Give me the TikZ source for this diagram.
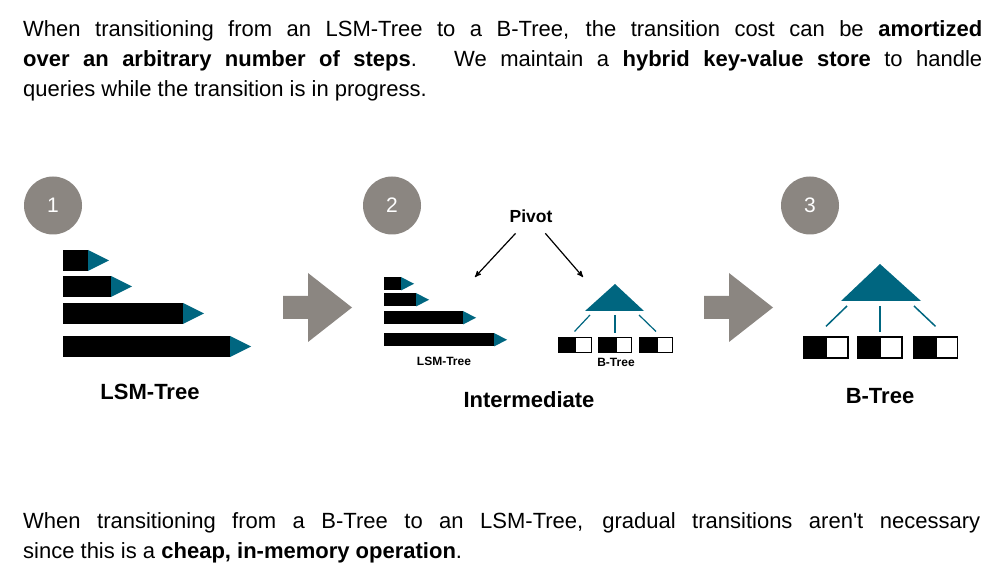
\documentclass[tikz,border=0pt]{standalone}
\usepackage{fontspec}
\setmainfont{Liberation Sans}
\usetikzlibrary{arrows,positioning}
\definecolor{stepgray}{RGB}{139,134,129}
\definecolor{treeteal}{RGB}{0,102,128}
\newcommand{\straightquote}{\XeTeXglyph\XeTeXcharglyph"27\relax}

\begin{document}
\begin{tikzpicture}[x=1pt, y=-1pt, >=stealth',
	textline/.style={anchor=base west, inner sep=0pt, font=\fontsize{22}{30}\selectfont},
	stepmark/.style={circle, fill=stepgray, text=white, minimum size=58pt, inner sep=0pt, font=\fontsize{21}{24}\selectfont},
	title/.style={anchor=base, inner sep=0pt, font=\fontsize{22}{26}\selectfont\bfseries},
	smalltitle/.style={anchor=base, inner sep=0pt, font=\fontsize{12}{14}\selectfont\bfseries},
	leafbox/.style={draw, line width=1.3pt, minimum width=44pt, minimum height=21pt, inner sep=0pt,
		path picture={\fill (path picture bounding box.north west) rectangle ([xshift=23pt]path picture bounding box.south west);}},
	smallleaf/.style={draw, line width=1pt, minimum width=33pt, minimum height=15pt, inner sep=0pt,
		path picture={\fill (path picture bounding box.north west) rectangle ([xshift=18pt]path picture bounding box.south west);}},
	branch/.style={draw=treeteal, line width=1.5pt},
	pointer/.style={->, line width=1.2pt}]
	\useasboundingbox (0,0) rectangle (994,577);

	% Text {top1, top2, top3, bot1, bot2}
	\node [textline] (top1) at (23,37) {\hbox to 959pt{When transitioning from an LSM-Tree to a B-Tree, the transition cost can be \textbf{amortized}}};
	\node [textline] (top2) at (23,67) {\hbox to 959pt{\textbf{over an arbitrary number of steps}.\hspace{7pt} We maintain a \textbf{hybrid key-value store} to handle}};
	\node [textline] (top3) at (23,97) {queries while the transition is in progress.};
	\node [textline] (bot1) at (23,528) {\hbox to 957pt{When transitioning from a B-Tree to an LSM-Tree, gradual transitions aren\straightquote t necessary}};
	\node [textline] (bot2) at (23,558) {since this is a \textbf{cheap, in-memory operation}.};

	% Steps {step1, step2, step3}
	\node [stepmark] (step1) at (53,205.5)  {1};
	\node [stepmark] (step2) at (392,205.5) {2};
	\node [stepmark] (step3) at (810,205.5) {3};

	% Gray arrows between steps
	\foreach \ax in {283,704}
		\fill [stepgray] (\ax,296) -- ++(25,0) -- ++(0,-23) -- ++(44,34.5) -- ++(-44,34.5) -- ++(0,-23) -- ++(-25,0) -- cycle;

	% LSM-Tree of step 1
	\foreach \len/\top in {88/250, 111/276, 183/303, 230/336} {
		\fill (63,\top) rectangle (\len,\top+21);
		\fill [treeteal] (\len,\top) -- (\len+21,\top+10.5) -- (\len,\top+21) -- cycle;
	}
	\node [title] (lsm) at (150,400) {LSM-Tree};

	% Intermediate of step 2
	\foreach \len/\top in {401/277, 416/293, 463/311, 494/333} {
		\fill (384,\top) rectangle (\len,\top+13.5);
		\fill [treeteal] (\len,\top) -- (\len+13,\top+6.75) -- (\len,\top+13.5) -- cycle;
	}
	\node [smalltitle] (lsmsmall) at (444,366) {LSM-Tree};

	\fill [treeteal] (585,311) -- (615,284) -- (644,311) -- cycle;
	\node [smallleaf] (s1) at (574.5,345.5) {};
	\node [smallleaf] (s2) at (615,345.5)   {};
	\node [smallleaf] (s3) at (656,345.5)   {};
	\coordinate (s1top) at (590,315);
	\coordinate (s2top) at (615,315);
	\coordinate (s3top) at (639,315);
	\draw [branch, line width=1.2pt] (s1top) -- ([yshift=6pt]s1.north);
	\draw [branch, line width=1.2pt] (s2top) -- ([yshift=4pt]s2.north);
	\draw [branch, line width=1.2pt] (s3top) -- ([yshift=6pt]s3.north);
	\node [smalltitle] (btreesmall) at (616,367) {B-Tree};

	\node [title, font=\fontsize{17.5}{20}\selectfont\bfseries, inner sep=10pt] (pivot) at (531,223) {Pivot};
	\coordinate (lsmtop)   at (475,277);
	\coordinate (btreetop) at (583,277);
	\path [pointer] (pivot) edge (lsmtop);
	\path [pointer] (pivot) edge (btreetop);
	\node [title] (inter) at (529,407) {Intermediate};

	% B-Tree of step 3
	\fill [treeteal] (841,301) -- (880,264) -- (921,301) -- cycle;
	\node [leafbox] (l1) at (826,347.5)   {};
	\node [leafbox] (l2) at (880,347.5)   {};
	\node [leafbox] (l3) at (935.5,347.5) {};
	\coordinate (l1top) at (847,306);
	\coordinate (l2top) at (880,306);
	\coordinate (l3top) at (914,306);
	\draw [branch] (l1top) -- ([yshift=10pt]l1.north);
	\draw [branch] (l2top) -- ([yshift=4pt]l2.north);
	\draw [branch] (l3top) -- ([yshift=10pt]l3.north);
	\node [title] (btree) at (880,403) {B-Tree};

\end{tikzpicture}
\end{document}
